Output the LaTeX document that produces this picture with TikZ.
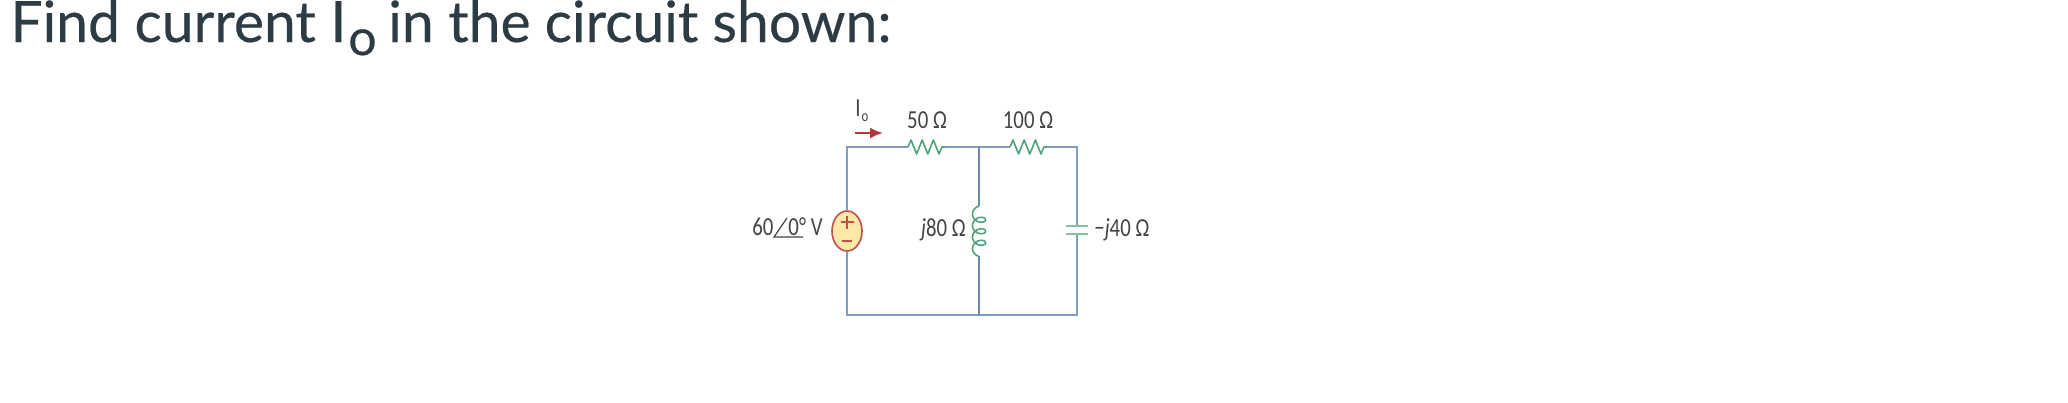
\documentclass[tikz,border=0pt]{standalone}
\usepackage{fontspec}
\setmainfont{Lato}
\newfontfamily\titlefont[FakeBold=0.35]{Lato}
\newfontfamily\lblfont[FakeStretch=0.8]{Carlito}
\usetikzlibrary{arrows.meta,shapes.geometric}
\definecolor{titlecol}{HTML}{2D3B45}
\definecolor{wirecol}{HTML}{7F9CC2}
\definecolor{wiredark}{HTML}{6B88B0}
\definecolor{compgreen}{HTML}{4FA37A}
\definecolor{srcred}{HTML}{C0504D}
\definecolor{srcfill}{HTML}{FDE8A8}
\definecolor{arrowred}{HTML}{B5373A}
\definecolor{lblcol}{HTML}{444444}
\tikzset{
  wire/.style={draw=wirecol,line width=1.1pt,line join=miter},
  thinwire/.style={draw=wiredark,line width=.7pt},
  comp/.style={draw=compgreen,line width=.8pt,line join=round},
  capplate/.style={draw=compgreen!70,line width=1.3pt},
  lbl/.style={inner sep=0pt,text=lblcol,font=\lblfont\fontsize{13}{15}\selectfont},
  srcnode/.style={ellipse,draw=srcred,fill=srcfill,line width=.8pt,minimum width=15pt,minimum height=20pt,inner sep=0pt},
}
\begin{document}
\begin{tikzpicture}[x=.5pt,y=-.5pt]
\useasboundingbox (0,0) rectangle (2068,402);
% title
\node[anchor=base west,inner sep=0pt,text=titlecol,font=\titlefont\fontsize{28.5}{30}\selectfont] (title) at (10,42)
  {Find current I\kern1pt\raisebox{-6.5pt}{\fontsize{25}{27}\selectfont o}\kern-1.5pt{} in the\kern-.3pt{} circuit\kern-.3pt{} shown:};
% anchors
\coordinate (tl) at (847,147);
\coordinate (tm) at (979,147);
\coordinate (tr) at (1077,147);
\coordinate (bl) at (847,315);
\coordinate (bm) at (979,315);
\coordinate (br) at (1077,315);
\coordinate (r1a) at (908,147);
\coordinate (r1b) at (945,147);
\coordinate (r2a) at (1010,147);
\coordinate (r2b) at (1047,147);
\coordinate (la) at (979,206);
\coordinate (lb) at (979,256);
\coordinate (ca) at (1077,226);
\coordinate (cb) at (1077,234);
\node[srcnode] (src) at (847,231) {};
% wires
\draw[wire] (src.north) -- (tl) -- (r1a);
\draw[wire] (r1b) -- (tm);
\draw[wire] (tm) -- (r2a);
\draw[wire] (r2b) -- (tr) -- (ca);
\draw[wire] (cb) -- (br) -- (bl) -- (src.south);
\draw[thinwire] (tm) -- (la);
\draw[thinwire] (lb) -- (bm);
% resistors
\foreach \a/\b in {r1a/r1b,r2a/r2b}{
  \draw[comp] (\a) -- ++(3,-7) -- ++(5.6,14) -- ++(5.6,-14) -- ++(5.6,14) -- ++(5.6,-14) -- ++(5.6,14) -- ++(3,-7) -- (\b);
}
% inductor
\draw[comp,smooth] plot[domain=-1.5708:20.42,samples=140,variable=\t]
  ({979-6.5*cos(\t r)},{214+1.83*\t+5*sin(\t r)});
% capacitor
\coordinate (c1l) at (1066,226); \coordinate (c1r) at (1088,226);
\coordinate (c2l) at (1066,234); \coordinate (c2r) at (1088,234);
\draw[capplate] (c1l) -- (c1r);
\draw[capplate] (c2l) -- (c2r);
% source polarity
\draw[srcred,line width=.8pt] (847,215.5) -- (847,229) (840.5,222) -- (853.5,222);
\draw[srcred,line width=1.2pt] (842,241) -- (852,241);
% current arrow
\coordinate (ia) at (855,133);
\coordinate (ib) at (883,133);
\draw[arrowred,line width=1pt,-{Latex[length=6.5pt,width=5.5pt]}] (ia) -- (ib);
% labels
\node[lbl,anchor=base west] (io) at (855,116) {I\kern.5pt\raisebox{-2.5pt}{\fontsize{8}{9}\selectfont o}};
\node[lbl,anchor=base] (r1) at (927,128) {50 Ω};
\node[lbl,anchor=base] (r2) at (1028,128) {100 Ω};
\node[lbl,anchor=base east] (lv) at (966,236) {\textit{j}80 Ω};
\node[lbl,anchor=base west] (cv) at (1094,236) {−\textit{j}40 Ω};
\node[lbl,anchor=base west] (vv) at (752,235) {60\hspace{7.5pt}0° V};
\draw[lblcol,line width=.6pt] (787,218) -- (774,237) -- (803,237);
\end{tikzpicture}
\end{document}
